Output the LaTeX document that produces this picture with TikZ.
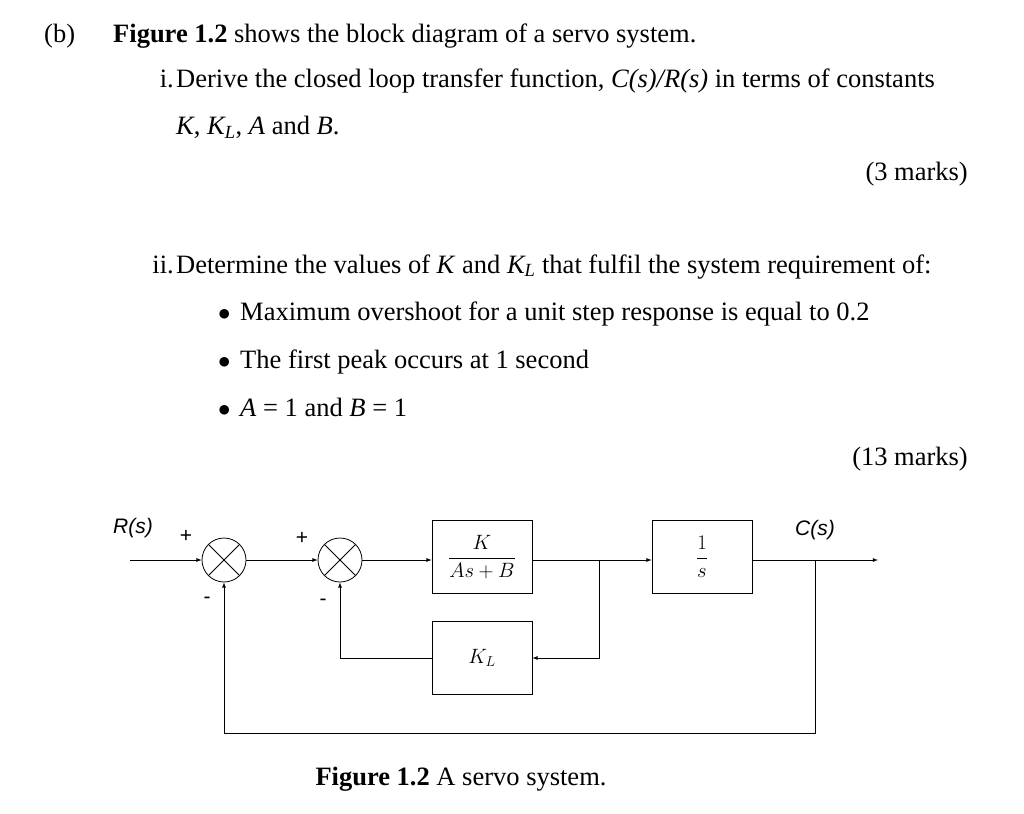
\documentclass[tikz,border=0pt]{standalone}
\usepackage{amsmath}
\usepackage{fontspec}
\setmainfont{Liberation Serif}
\newfontfamily\sansf{Liberation Sans}
\usetikzlibrary{positioning}
\tikzset{
  blk/.style={draw, thick, minimum width=100pt, minimum height=73pt, inner sep=0pt},
  sumj/.style={draw, thick, circle, minimum size=44pt, inner sep=0pt,
    path picture={\draw[thick] (path picture bounding box.north west) -- (path picture bounding box.south east)
      (path picture bounding box.north east) -- (path picture bounding box.south west);}},
  sig/.style={thick, -latex},
  txt/.style={anchor=base west, inner sep=0pt, font=\fontsize{26.5}{30}\selectfont},
  lbl/.style={inner sep=0pt, font=\sansf\fontsize{21}{24}\selectfont\itshape},
  sgn/.style={inner sep=0pt, font=\sansf\fontsize{21}{24}\selectfont}
}
\begin{document}
\begin{tikzpicture}[x=1pt, y=-1pt]
 \useasboundingbox (0,0) rectangle (1024,813);

 %question text
 \node[txt] (qb) at (44,43) {(b)};
 \node[txt] (qhead) at (113,43) {\textbf{Figure 1.2} shows the block diagram of a servo system.};
 \node[txt, anchor=base east] (qi) at (174,88) {i.};
 \node[txt] (qitxt) at (176,88) {Derive the closed loop transfer function, \textit{C(s)/R(s)} in terms of constants};
 \node[txt] (qitxtb) at (176,135) {\textit{K}, \textit{K\textsubscript{L}}, \textit{A} and \textit{B}.};
 \node[txt, anchor=base east] (m3) at (968,180) {(3 marks)};
 \node[txt, anchor=base east] (qii) at (174,273) {ii.};
 \node[txt] (qiitxt) at (176,273) {Determine the values of \textit{K} and \textit{K\textsubscript{L}} that fulfil the system requirement of:};
 \foreach \i/\name in {0/Maximum overshoot for a unit step response is equal to 0.2, 1/The first peak occurs at 1 second, 2/\textit{A} = 1 and \textit{B} = 1} {
   \node[txt] (bul\i) at (218,320+\i*48) {$\bullet$};
   \node[txt] (item\i) at (240,320+\i*48) {\name};
 }
 \node[txt, anchor=base east] (m13) at (968,465) {(13 marks)};
 \node[txt, anchor=base] (cap) at (461,785) {\textbf{Figure 1.2} A servo system.};

 %block diagram
 \coordinate (in) at (130,560);
 \node[sumj] (s1) at (224,560) {};
 \node[sumj] (s2) at (340,560) {};
 \node[blk] (g1) at (482,557) {\fontsize{21}{24}\selectfont$\dfrac{K}{As+B}$};
 \node[blk] (g2) at (702,557) {\fontsize{21}{24}\selectfont$\dfrac{1}{s}$};
 \node[blk] (kl) at (482,658) {\fontsize{21}{24}\selectfont$K_L$};
 \coordinate (out) at (878,560);
 \coordinate (b1) at (599,560);
 \coordinate (b2) at (815,560);

 \draw[sig] (in) -- (s1);
 \draw[sig] (s1) -- (s2);
 \draw[sig] (s2) -- (s2 -| g1.west);
 \draw[sig] (g1.east |- b1) -- (g2.west |- b1);
 \draw[sig] (g2.east |- b2) -- (out);
 \draw[sig] (b1) |- (kl.east);
 \draw[sig] (kl.west) -| (s2.south);
 \draw[sig] (b2) |- (224,733) -- (s1.south);

 \node[lbl] (rs) at (133,528) {R(s)};
 \node[lbl] (cs) at (815,530) {C(s)};
 \node[sgn] (p1) at (186,536) {+};
 \node[sgn] (p2) at (302,538) {+};
 \node[sgn] (n1) at (207,600) {-};
 \node[sgn] (n2) at (323,602) {-};
\end{tikzpicture}
\end{document}
